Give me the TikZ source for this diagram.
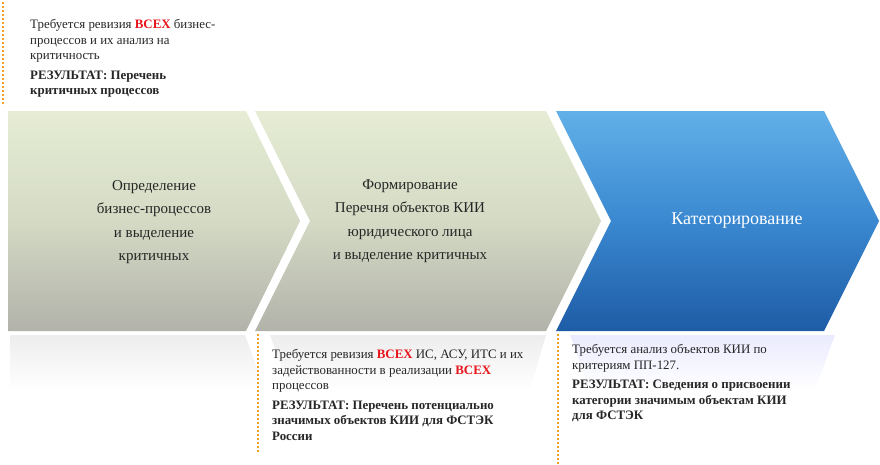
\documentclass[tikz,border=0pt]{standalone}
\usepackage{fontspec}
\setmainfont{Liberation Serif}
\usetikzlibrary{shadings,fadings}
\definecolor{vred}{HTML}{E8141B}
\definecolor{dotor}{HTML}{F0A020}
\definecolor{gtop}{HTML}{E6EDD4}
\definecolor{gmid}{HTML}{D4DAC4}
\definecolor{gbot}{HTML}{B2B2AA}
\definecolor{btop}{HTML}{62B0E8}
\definecolor{bmid}{HTML}{3A88D0}
\definecolor{bbot}{HTML}{1E5CA6}
\tikzset{
  greenchev/.style={top color=gtop, bottom color=gbot, middle color=gmid, draw=none},
  bluechev/.style={top color=btop, bottom color=bbot, middle color=bmid, draw=none},
  chevtxt/.style={font=\fontsize{15}{23.5}\selectfont, align=center, text=black!85},
  note/.style={font=\fontsize{12.9}{15.6}\selectfont, align=left, anchor=north west, inner sep=0pt, text=black!85},
  dots/.style={dotor, line width=2pt, dash pattern=on 2pt off 2pt},
}
\newcommand{\vsex}{\textcolor{vred}{\textbf{ВСЕХ}}}
\begin{document}
\begin{tikzpicture}[x=1pt,y=-1pt]
\useasboundingbox (0,0) rectangle (880,464);
% reflections
\shade[top color=black!7, bottom color=white] (10,335) -- (245,335) -- (265,390) -- (10,390) -- cycle;
\shade[top color=black!7, bottom color=white] (270,335) -- (546,335) -- (530,390) -- (290,390) -- cycle;
\shade[top color=blue!8, bottom color=white] (570,335) -- (835,335) -- (815,390) -- (590,390) -- cycle;
% chevrons
\path[greenchev] (8,111) -- (246,111) -- (300,221) -- (246,331) -- (8,331) -- cycle;
\path[greenchev] (255,111) -- (546,111) -- (601,221) -- (546,331) -- (255,331) -- (310,221) -- cycle;
\path[bluechev] (556,111) -- (824,111) -- (879,221) -- (824,331) -- (556,331) -- (611,221) -- cycle;
\node[chevtxt] (c1) at (154,222) {Определение\\бизнес-процессов\\и выделение\\критичных};
\node[chevtxt] (c2) at (410,221) {Формирование\\Перечня объектов КИИ\\юридического лица\\и выделение критичных};
\node[chevtxt, text=white, font=\fontsize{18}{22}\selectfont] (c3) at (737,221) {Категорирование};
% dotted lines
\draw[dots] (3,2) -- (3,106);
\draw[dots] (258,334) -- (258,452);
\draw[dots] (558,334) -- (558,464);
% notes
\node[note] (n1) at (30,19) {Требуется ревизия \vsex{} бизнес-\\процессов и их анализ на\\критичность\\[4pt]
\textbf{РЕЗУЛЬТАТ: Перечень}\\\textbf{критичных процессов}};
\node[note] (n2) at (272,349) {Требуется ревизия \vsex{} ИС, АСУ, ИТС и их\\задействованности в реализации \vsex\\процессов\\[4pt]
\textbf{РЕЗУЛЬТАТ: Перечень потенциально}\\\textbf{значимых объектов КИИ для ФСТЭК}\\\textbf{России}};
\node[note] (n3) at (572,344) {Требуется анализ объектов КИИ по\\критериям ПП-127.\\[4pt]
\textbf{РЕЗУЛЬТАТ: Сведения о присвоении}\\\textbf{категории значимым объектам КИИ}\\\textbf{для ФСТЭК}};
\end{tikzpicture}
\end{document}
